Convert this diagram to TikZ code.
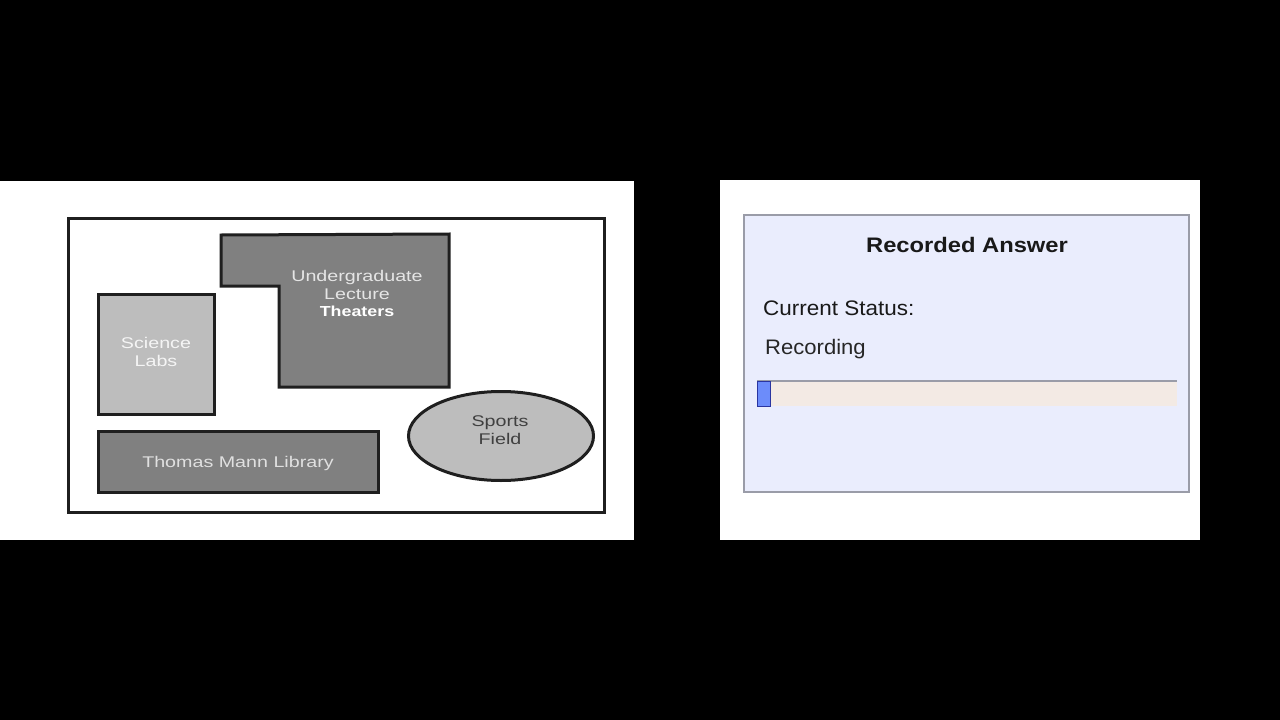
\documentclass[tikz,border=0pt]{standalone}
\usepackage{fontspec}
\setmainfont{Liberation Sans}
\newfontfamily\widefont[FakeStretch=1.27]{Liberation Sans}
\newfontfamily\theaterfont[FakeStretch=1.23]{Liberation Sans}
\newfontfamily\titlefont[FakeStretch=1.13]{Liberation Sans}
\newfontfamily\statusfont[FakeStretch=1.07]{Liberation Sans}
\newfontfamily\recfont[FakeStretch=1.05]{Liberation Sans}
\definecolor{darkfill}{gray}{0.5}
\definecolor{lightfill}{gray}{0.74}
\definecolor{edge}{gray}{0.12}
\definecolor{panelblue}{HTML}{EAEDFD}
\definecolor{panelline}{HTML}{9A9CA8}
\definecolor{barfill}{HTML}{F3EAE4}
\definecolor{thumbfill}{HTML}{6C8CFA}
\definecolor{thumbline}{HTML}{2A35A0}
\tikzset{
  x=1pt,y=-1pt,
  bldg/.style={draw=edge,line width=3pt,line join=miter},
  lbl/.style={font=\widefont\fontsize{15.5}{17.5}\selectfont,align=center,inner sep=0pt},
}
\begin{document}
\begin{tikzpicture}
\useasboundingbox (0,0) rectangle (1280,720);
\fill[black] (0,0) rectangle (1280,720);
% left panel
\fill[white] (0,181) rectangle (634,540);
\node[draw=edge,line width=3pt,fill=white,minimum width=536pt,minimum height=294pt,inner sep=0pt] (campus) at (336,365) {};
\draw[bldg,fill=darkfill] (221,235) -- (449,234) -- (449,387) -- (279,387) -- (279,286) -- (221,286) -- cycle;
\node[lbl,text=white!90!black] (ugrad) at (357,293.5) {Undergraduate\\Lecture\\\textcolor{white}{\theaterfont\fontsize{14.5}{17.5}\selectfont\bfseries Theaters}};
\node[bldg,fill=lightfill,minimum width=116pt,minimum height=120pt,inner sep=0pt] (labs) at (156,354) {};
\node[lbl,text=white!85!lightfill] (labstext) at (156,352) {Science\\Labs};
\node[bldg,fill=darkfill,minimum width=280pt,minimum height=61pt,inner sep=0pt] (library) at (238,461.5) {};
\node[lbl,text=white!88!black] (libtext) at (238,463) {Thomas Mann Library};
\draw[bldg,fill=lightfill] (501,436) ellipse [x radius=92.5,y radius=44.5];
\node[lbl,text=black!75] (sports) at (500,430) {Sports\\Field};
% right panel
\fill[white] (720,180) rectangle (1200,540);
\node[draw=panelline,line width=2pt,fill=panelblue,minimum width=445pt,minimum height=277pt,inner sep=0pt] (panel) at (966.5,353.5) {};
\node[font=\titlefont\fontsize{21}{24}\selectfont\bfseries,text=black!90,inner sep=0pt] (title) at (967,245) {Recorded Answer};
\node[font=\statusfont\fontsize{21}{24}\selectfont,text=black!90,inner sep=0pt,anchor=west] (status) at (763,308) {Current Status:};
\node[font=\recfont\fontsize{21}{24}\selectfont,text=black!85,inner sep=0pt,anchor=west] (rec) at (765,349) {Recording};
\fill[barfill] (757,381) rectangle (1177,406);
\draw[panelline,line width=1.2pt] (757,381) -- (1177,381);
\node[draw=thumbline,line width=1.4pt,fill=thumbfill,minimum width=13pt,minimum height=25pt,inner sep=0pt] (thumb) at (764,394) {};
\end{tikzpicture}
\end{document}
